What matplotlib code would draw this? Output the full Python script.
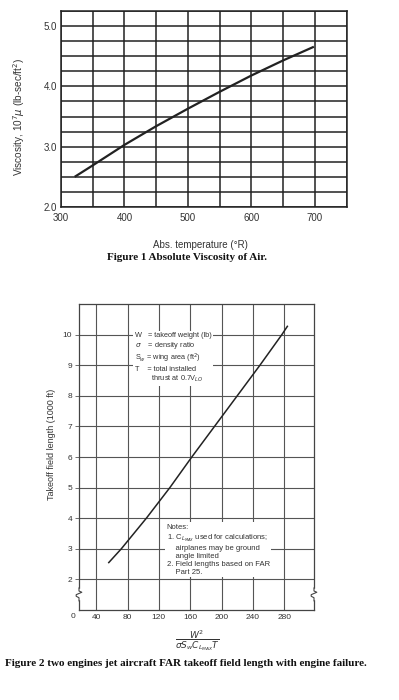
import numpy as np
import matplotlib.pyplot as plt
from matplotlib import transforms

# Figure 1 - absolute viscosity of air
temp_R = [323, 350, 400, 450, 500, 550, 600, 650, 697]
visc = [2.51, 2.69, 3.03, 3.34, 3.63, 3.91, 4.18, 4.43, 4.65]
temp_ticks = [300, 400, 500, 600, 700]
visc_ticks = [2.0, 3.0, 4.0, 5.0]

# Figure 2 - takeoff field length, two engines
param = [56, 72, 104, 134, 162, 191, 220, 249, 277, 284]
field_len = [2.55, 3, 4, 5, 6, 7, 8, 9, 10, 10.27]
param_ticks = [40, 80, 120, 160, 200, 240, 280]
param_labels = ['40', '80', '120', '160', '200', '240', '280']
len_ticks = [2, 3, 4, 5, 6, 7, 8, 9, 10]

plt.rcParams['font.family'] = ['Liberation Sans', 'DejaVu Sans']
ink = '#222222'
txt = '#333333'

fig = plt.figure(figsize=(3.99, 7.0), dpi=100)

# ---- top chart ----
ax1 = fig.add_axes([61/399, 1-207/700, 285.5/399, 196/700])
ax1.plot(temp_R, visc, color=ink, lw=1.6, zorder=3)
ax1.set_xlim(300, 750)
ax1.set_ylim(2.0, 5.25)
ax1.set_xticks(temp_ticks)
ax1.set_xticklabels([str(t) for t in temp_ticks])
ax1.set_yticks(visc_ticks)
ax1.set_yticklabels(['%.1f' % v for v in visc_ticks])
ax1.set_xticks(np.arange(300, 751, 50), minor=True)
ax1.set_yticks(np.arange(2.0, 5.26, 0.25), minor=True)
ax1.grid(which='both', color=ink, lw=1.1)
ax1.tick_params(which='both', length=0, labelsize=7, labelcolor=txt)
ax1.tick_params(axis='x', pad=4)
ax1.tick_params(axis='y', pad=3)
for s in ax1.spines.values():
    s.set_color(ink)
    s.set_linewidth(1.1)
ax1.set_ylabel('Viscosity, 10$^7\\mu$ (lb-sec/ft$^2$)', fontsize=7.2, color=txt)
ax1.yaxis.set_label_coords(-0.12, 0.46)
ax1.set_xlabel('Abs. temperature (°R)', fontsize=7, color=txt)
ax1.xaxis.set_label_coords(0.487, -0.17)

fig.text(0.469, 1-257/700, 'Figure 1 Absolute Viscosity of Air.', ha='center', va='center',
         fontsize=8, fontweight='bold', family='Liberation Serif', color='#111111')

# ---- bottom chart ----
ax2 = fig.add_axes([79/399, 1-610/700, 235/399, 306/700])
ax2.plot(param, field_len, color=ink, lw=1.1, zorder=3)
ax2.set_xlim(18, 318)
ax2.set_ylim(1, 11)
ax2.set_xticks(param_ticks)
ax2.set_xticklabels(param_labels)
ax2.set_yticks(len_ticks)
ax2.set_yticklabels([str(v) for v in len_ticks])
ax2.grid(color='#555555', lw=0.8)
ax2.tick_params(axis='x', length=0, pad=3, labelsize=6, labelcolor=txt)
ax2.tick_params(axis='y', length=3, width=0.6, color='#555555', pad=2,
                labelsize=6, labelcolor=txt)
for s in ax2.spines.values():
    s.set_color('#444444')
    s.set_linewidth(0.9)
ax2.annotate('0', xy=(0, 0), xycoords='axes fraction', xytext=(-4.5, -5),
             textcoords='offset points', ha='center', va='center', fontsize=6, color=txt)

ax2.set_ylabel('Takeoff field length (1000 ft)', fontsize=6.5, color=txt)
ax2.yaxis.set_label_coords(-0.1, 0.54)
ax2.set_xlabel(r'$\dfrac{W^2}{\sigma S_w C_{L_{MAX}} T}$', fontsize=6.5, color=txt)
ax2.xaxis.set_label_coords(0.506, -0.06)

# axis break marks on both sides
trans = transforms.blended_transform_factory(ax2.transAxes, ax2.transData)
for xa in (0, 1):
    ax2.plot([xa, xa], [1.38, 1.64], color='white', lw=2.5, transform=trans,
             clip_on=False, zorder=5)
    ax2.plot([xa, xa, xa - 0.012, xa - 0.012, xa + 0.012, xa, xa],
             [1.3, 1.4, 1.45, 1.5, 1.58, 1.62, 1.72], color='#444444', lw=0.8,
             transform=trans, clip_on=False, zorder=6)

box = dict(facecolor='white', edgecolor='none', pad=1.0)
ax2.text(89, 10.1,
         'W   = takeoff weight (lb)\n'
         '$\\sigma$    = density ratio\n'
         'S$_w$ = wing area (ft$^2$)\n'
         'T    = total installed\n'
         '        thrust at 0.7V$_{LO}$',
         ha='left', va='top', fontsize=5.3, color=txt, linespacing=1.15,
         bbox=box, zorder=4)
ax2.text(130, 3.82,
         'Notes:\n'
         '1. C$_{L_{MAX}}$ used for calculations;\n'
         '    airplanes may be ground\n'
         '    angle limited\n'
         '2. Field lengths based on FAR\n'
         '    Part 25.',
         ha='left', va='top', fontsize=5.5, color=txt, linespacing=1.2,
         bbox=box, zorder=4)

fig.text(5/399, 1-663/700,
         'Figure 2 two engines jet aircraft FAR takeoff field length with engine failure.',
         ha='left', va='center', fontsize=8, fontweight='bold', family='Liberation Serif',
         color='#111111')

fig.savefig('out.png', dpi=100)
